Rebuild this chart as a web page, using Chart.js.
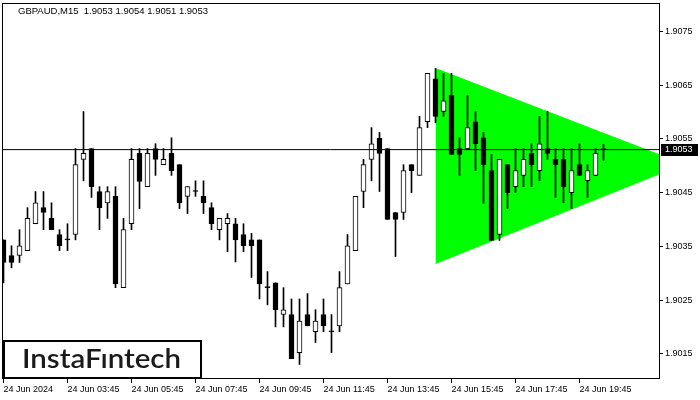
<!DOCTYPE html>
<html>
<head>
<meta charset="utf-8">
<script src="https://cdn.jsdelivr.net/npm/chart.js"></script>
<style>
  html, body { margin: 0; padding: 0; background: #fff; }
  #wrap { width: 700px; height: 400px; position: relative; }
</style>
</head>
<body>
<div id="wrap"><canvas id="chart"></canvas></div>
<script>
// GBPAUD M15 candles, 24 Jun 2024
const symbolTitle = 'GBPAUD,M15  1.9053 1.9054 1.9051 1.9053';
const tickLabels = ['24 Jun 2024', '24 Jun 03:45', '24 Jun 05:45', '24 Jun 07:45', '24 Jun 09:45',
  '24 Jun 11:45', '24 Jun 13:45', '24 Jun 15:45', '24 Jun 17:45', '24 Jun 19:45'];
const barsPerTick = 8;
const yTicks = [1.9015, 1.9025, 1.9035, 1.9045, 1.9055, 1.9065, 1.9075];
const lastPrice = 1.9053;

const opens = [
  1.90362, 1.90333, 1.90333, 1.90342, 1.90392, 1.90422, 1.90402, 1.90372, 1.90362, 1.90372,
  1.90512, 1.90532, 1.90452, 1.90431, 1.90443, 1.90273, 1.90392, 1.90523, 1.90461, 1.90532,
  1.90502, 1.90523, 1.90502, 1.90443, 1.90452, 1.90443, 1.90422, 1.90381, 1.90392, 1.90392,
  1.90372, 1.90362, 1.90362, 1.90273, 1.90282, 1.90223, 1.90223, 1.90152, 1.90223, 1.90191,
  1.90223, 1.90191, 1.90202, 1.90280, 1.90342, 1.90452, 1.90512, 1.90551, 1.90532, 1.90413,
  1.90413, 1.90502, 1.90482, 1.90582, 1.90662, 1.90601, 1.90631, 1.90532, 1.90532, 1.90582,
  1.90552, 1.90491, 1.90372, 1.90502, 1.90461, 1.90482, 1.90523, 1.90491, 1.90532, 1.90512,
  1.90512, 1.90450, 1.90502, 1.90472, 1.90482, 1.9053
];
const highs = [
  1.90362, 1.90351, 1.90381, 1.90422, 1.90452, 1.90452, 1.90431, 1.90381, 1.90392, 1.90532,
  1.90601, 1.90532, 1.90461, 1.90461, 1.90461, 1.90402, 1.90532, 1.90532, 1.90532, 1.90541,
  1.90532, 1.90552, 1.90502, 1.90461, 1.90472, 1.90472, 1.90431, 1.90402, 1.90411, 1.90402,
  1.90392, 1.90374, 1.90362, 1.90303, 1.90282, 1.90273, 1.90252, 1.90252, 1.90262, 1.90232,
  1.90252, 1.90223, 1.90303, 1.90372, 1.90443, 1.90512, 1.90571, 1.90562, 1.90532, 1.90413,
  1.90502, 1.90502, 1.90592, 1.90672, 1.90681, 1.90672, 1.90672, 1.90552, 1.90631, 1.90601,
  1.90562, 1.90521, 1.90512, 1.90502, 1.90532, 1.90532, 1.90541, 1.90592, 1.90601, 1.90532,
  1.90532, 1.90532, 1.90541, 1.90502, 1.90532, 1.9054
];
const lows = [
  1.90282, 1.90310, 1.90320, 1.90342, 1.90392, 1.90381, 1.90381, 1.90342, 1.90342, 1.90362,
  1.90472, 1.90441, 1.90381, 1.90402, 1.90273, 1.90273, 1.90381, 1.90420, 1.90461, 1.90482,
  1.90502, 1.90482, 1.90420, 1.90411, 1.90443, 1.90411, 1.90381, 1.90362, 1.90340, 1.90321,
  1.90340, 1.90292, 1.90252, 1.90241, 1.90200, 1.90200, 1.90141, 1.90130, 1.90202, 1.90171,
  1.90191, 1.90152, 1.90191, 1.90280, 1.90342, 1.90422, 1.90472, 1.90452, 1.90400, 1.90331,
  1.90400, 1.90450, 1.90482, 1.90571, 1.90580, 1.90592, 1.90521, 1.90482, 1.90532, 1.90491,
  1.90430, 1.90361, 1.90361, 1.90420, 1.90450, 1.90461, 1.90461, 1.90472, 1.90512, 1.90441,
  1.90431, 1.90420, 1.90482, 1.90441, 1.90482, 1.9051
];
const closes = [
  1.90320, 1.90320, 1.90351, 1.90402, 1.90431, 1.90413, 1.90381, 1.90351, 1.90362, 1.90502,
  1.90523, 1.90461, 1.90422, 1.90452, 1.90280, 1.90381, 1.90512, 1.90471, 1.90523, 1.90512,
  1.90512, 1.90491, 1.90431, 1.90461, 1.90452, 1.90431, 1.90392, 1.90402, 1.90402, 1.90362,
  1.90351, 1.90351, 1.90280, 1.90273, 1.90232, 1.90232, 1.90141, 1.90211, 1.90202, 1.90211,
  1.90202, 1.90191, 1.90273, 1.90351, 1.90443, 1.90502, 1.90541, 1.90523, 1.90400, 1.90400,
  1.90491, 1.90491, 1.90571, 1.90672, 1.90592, 1.90621, 1.90521, 1.90521, 1.90571, 1.90541,
  1.90502, 1.90361, 1.90512, 1.90450, 1.90491, 1.90512, 1.90502, 1.90541, 1.90523, 1.90502,
  1.90461, 1.90491, 1.90482, 1.90491, 1.90523, 1.9053
];

// symmetrical triangle (bar index, price)
const patternX = [54, 85];
const patternUpper = [1.90681, 1.90503];
const patternLower = [1.90318, 1.90503];

const wickData = lows.map((l, i) => ({ x: i, y: [l, highs[i]] }));
const bodyData = opens.map((o, i) => ({ x: i, y: [o, closes[i]] }));
const bodyColors = opens.map((o, i) => closes[i] > o ? '#ffffff' : '#000000');

const axisFont = { family: 'Liberation Sans', size: 9 };

const mtDecor = {
  id: 'mtDecor',
  afterDraw(chart) {
    const { ctx, chartArea: a, scales } = chart;
    ctx.save();
    // frame
    ctx.strokeStyle = '#000';
    ctx.lineWidth = 1;
    ctx.strokeRect(a.left + 0.5, a.top + 0.5, a.right - a.left, a.bottom - a.top - 1);

    // title
    ctx.fillStyle = '#000';
    ctx.font = '9.5px "Liberation Sans"';
    ctx.textAlign = 'left';
    ctx.textBaseline = 'alphabetic';
    ctx.fillText(symbolTitle, 18, 14);

    // last price tag
    const py = Math.round(scales.y.getPixelForValue(lastPrice));
    ctx.fillRect(a.right + 2, py - 6, 37, 12);
    ctx.fillStyle = '#fff';
    ctx.font = '9px "Liberation Sans"';
    ctx.textBaseline = 'middle';
    ctx.fillText(lastPrice.toFixed(4), a.right + 6, py);

    // logo
    ctx.fillStyle = '#fff';
    ctx.fillRect(3, 340, 199, 39);
    ctx.lineWidth = 2;
    ctx.strokeStyle = '#000';
    ctx.strokeRect(4, 341, 197, 37);
    ctx.fillStyle = '#1a1a1a';
    ctx.font = '600 26px Lato';
    ctx.textBaseline = 'alphabetic';
    const logo = 'InstaF\u0131ntech';
    const w = ctx.measureText(logo).width;
    ctx.translate(22, 368);
    ctx.scale(159 / w, 1);
    ctx.fillText(logo, 0, 0);
    ctx.restore();
  }
};

const ctx = document.getElementById('chart').getContext('2d');
const chart = new Chart(ctx, {
  type: 'bar',
  data: {
    datasets: [
      {
        type: 'line',
        data: patternX.map((x, i) => ({ x: x, y: patternUpper[i] })),
        borderColor: '#00ff00',
        borderWidth: 1,
        backgroundColor: '#00ff00',
        pointRadius: 0,
        fill: '+1',
        order: 5
      },
      {
        type: 'line',
        data: patternX.map((x, i) => ({ x: x, y: patternLower[i] })),
        borderColor: '#00ff00',
        borderWidth: 1,
        pointRadius: 0,
        fill: false,
        order: 4
      },
      {
        data: wickData,
        backgroundColor: '#000',
        borderWidth: 0,
        barThickness: 1,
        grouped: false,
        order: 2
      },
      {
        data: bodyData,
        backgroundColor: bodyColors,
        borderColor: '#000',
        borderWidth: 1,
        borderSkipped: false,
        barThickness: 5,
        minBarLength: 1,
        grouped: false,
        order: 1
      },
      {
        type: 'line',
        data: [{ x: -1, y: lastPrice }, { x: 90, y: lastPrice }],
        borderColor: '#000',
        borderWidth: 1,
        pointRadius: 0,
        fill: false,
        order: 0
      }
    ]
  },
  options: {
    responsive: true,
    maintainAspectRatio: false,
    animation: false,
    layout: { padding: { left: 2, top: 3, right: 0, bottom: 0 } },
    plugins: {
      legend: { display: false },
      tooltip: { enabled: false }
    },
    scales: {
      x: {
        type: 'linear',
        min: -0.1875,
        max: 81.9375,
        offset: false,
        border: { display: false },
        grid: { offset: false, drawOnChartArea: false, drawTicks: true, tickLength: 4, color: '#000' },
        ticks: {
          align: 'start',
          padding: 1,
          maxRotation: 0,
          autoSkip: false,
          color: '#000',
          font: axisFont,
          callback: v => tickLabels[Math.round(v / barsPerTick)]
        },
        afterBuildTicks: s => { s.ticks = tickLabels.map((t, i) => ({ value: i * barsPerTick })); },
        afterFit: s => { s.height = 21; s.paddingLeft = 0; s.paddingRight = 0; }
      },
      y: {
        position: 'right',
        min: 1.90103,
        max: 1.90803,
        border: { display: false },
        grid: { drawOnChartArea: false, drawTicks: true, tickLength: 4, color: '#000' },
        ticks: {
          padding: 2,
          color: '#000',
          font: axisFont,
          callback: v => v.toFixed(4)
        },
        afterBuildTicks: s => { s.ticks = yTicks.map(v => ({ value: v })); },
        afterFit: s => { s.width = 41; s.paddingTop = 0; s.paddingBottom = 0; }
      }
    }
  },
  plugins: [mtDecor]
});
</script>
</body>
</html>
